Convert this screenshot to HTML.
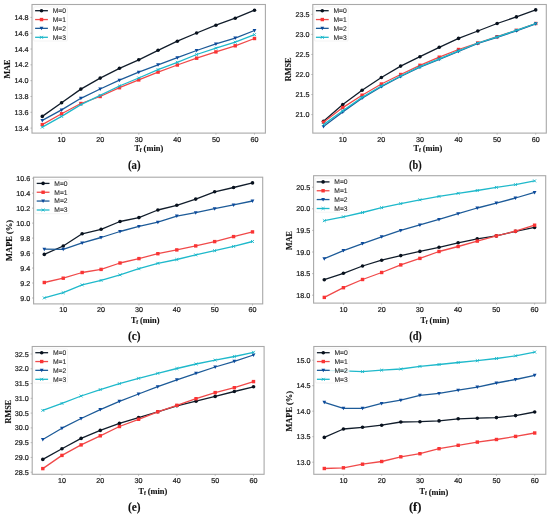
<!DOCTYPE html>
<html><head><meta charset="utf-8"><style>
html,body{margin:0;padding:0;background:#fff;}
body{width:550px;height:517px;overflow:hidden;}
svg{display:block;will-change:transform;}
.s{font-family:"Liberation Sans",sans-serif;fill:#1c1c1c;stroke:#1c1c1c;stroke-width:0.22;text-rendering:geometricPrecision;}
.l{font-family:"Liberation Sans",sans-serif;fill:#2e2e2e;stroke:#2e2e2e;stroke-width:0.12;text-rendering:geometricPrecision;}
.b{font-family:"Liberation Serif",serif;font-weight:bold;fill:#111;stroke:#111;stroke-width:0.12;}
</style></head><body>
<svg width="550" height="517" viewBox="0 0 550 517">
<rect width="550" height="517" fill="#fff"/>
<g><clipPath id="c0"><rect x="32" y="4.5" width="233.4" height="128.6"/></clipPath><g clip-path="url(#c0)"><polyline points="42.3,116.4 61.59,102.8 80.88,89.1 100.17,78.1 119.46,68.3 138.75,59.8 158.05,50.3 177.34,41.2 196.63,33 215.92,25.2 235.21,18.2 254.5,10.2" fill="none" stroke="#111d2b" stroke-width="1.3" stroke-linejoin="round"/><circle cx="42.3" cy="116.4" r="1.8" fill="#08111d"/><circle cx="61.59" cy="102.8" r="1.8" fill="#08111d"/><circle cx="80.88" cy="89.1" r="1.8" fill="#08111d"/><circle cx="100.17" cy="78.1" r="1.8" fill="#08111d"/><circle cx="119.46" cy="68.3" r="1.8" fill="#08111d"/><circle cx="138.75" cy="59.8" r="1.8" fill="#08111d"/><circle cx="158.05" cy="50.3" r="1.8" fill="#08111d"/><circle cx="177.34" cy="41.2" r="1.8" fill="#08111d"/><circle cx="196.63" cy="33" r="1.8" fill="#08111d"/><circle cx="215.92" cy="25.2" r="1.8" fill="#08111d"/><circle cx="235.21" cy="18.2" r="1.8" fill="#08111d"/><circle cx="254.5" cy="10.2" r="1.8" fill="#08111d"/><polyline points="42.3,124.6 61.59,113.8 80.88,103.5 100.17,96.5 119.46,87.7 138.75,79.9 158.05,72.1 177.34,65 196.63,58.2 215.92,51.9 235.21,45.8 254.5,38.5" fill="none" stroke="#f04a4a" stroke-width="1.3" stroke-linejoin="round"/><rect x="40.6" y="122.9" width="3.4" height="3.4" fill="#fa3434"/><rect x="59.89" y="112.1" width="3.4" height="3.4" fill="#fa3434"/><rect x="79.18" y="101.8" width="3.4" height="3.4" fill="#fa3434"/><rect x="98.47" y="94.8" width="3.4" height="3.4" fill="#fa3434"/><rect x="117.76" y="86" width="3.4" height="3.4" fill="#fa3434"/><rect x="137.05" y="78.2" width="3.4" height="3.4" fill="#fa3434"/><rect x="156.35" y="70.4" width="3.4" height="3.4" fill="#fa3434"/><rect x="175.64" y="63.3" width="3.4" height="3.4" fill="#fa3434"/><rect x="194.93" y="56.5" width="3.4" height="3.4" fill="#fa3434"/><rect x="214.22" y="50.2" width="3.4" height="3.4" fill="#fa3434"/><rect x="233.51" y="44.1" width="3.4" height="3.4" fill="#fa3434"/><rect x="252.8" y="36.8" width="3.4" height="3.4" fill="#fa3434"/><polyline points="42.3,120.4 61.59,109.9 80.88,98.3 100.17,89 119.46,80.2 138.75,72.2 158.05,64.8 177.34,57.7 196.63,50.5 215.92,43.9 235.21,38.1 254.5,30.5" fill="none" stroke="#1d5b98" stroke-width="1.3" stroke-linejoin="round"/><path d="M40.4 118.9L44.2 118.9L42.3 122.4Z" fill="#0c4a9c"/><path d="M59.69 108.4L63.49 108.4L61.59 111.9Z" fill="#0c4a9c"/><path d="M78.98 96.8L82.78 96.8L80.88 100.3Z" fill="#0c4a9c"/><path d="M98.27 87.5L102.07 87.5L100.17 91Z" fill="#0c4a9c"/><path d="M117.56 78.7L121.36 78.7L119.46 82.2Z" fill="#0c4a9c"/><path d="M136.85 70.7L140.65 70.7L138.75 74.2Z" fill="#0c4a9c"/><path d="M156.15 63.3L159.95 63.3L158.05 66.8Z" fill="#0c4a9c"/><path d="M175.44 56.2L179.24 56.2L177.34 59.7Z" fill="#0c4a9c"/><path d="M194.73 49L198.53 49L196.63 52.5Z" fill="#0c4a9c"/><path d="M214.02 42.4L217.82 42.4L215.92 45.9Z" fill="#0c4a9c"/><path d="M233.31 36.6L237.11 36.6L235.21 40.1Z" fill="#0c4a9c"/><path d="M252.6 29L256.4 29L254.5 32.5Z" fill="#0c4a9c"/><polyline points="42.3,127.1 61.59,116.4 80.88,104.6 100.17,95.4 119.46,86 138.75,78 158.05,69.6 177.34,62.3 196.63,54.5 215.92,48.2 235.21,42.2 254.5,34.6" fill="none" stroke="#1fb9cb" stroke-width="1.3" stroke-linejoin="round"/><path d="M40.85 125.65L43.75 128.55M40.85 128.55L43.75 125.65" stroke="#1ab5c8" stroke-width="0.9" fill="none"/><path d="M60.14 114.95L63.04 117.85M60.14 117.85L63.04 114.95" stroke="#1ab5c8" stroke-width="0.9" fill="none"/><path d="M79.43 103.15L82.33 106.05M79.43 106.05L82.33 103.15" stroke="#1ab5c8" stroke-width="0.9" fill="none"/><path d="M98.72 93.95L101.62 96.85M98.72 96.85L101.62 93.95" stroke="#1ab5c8" stroke-width="0.9" fill="none"/><path d="M118.01 84.55L120.91 87.45M118.01 87.45L120.91 84.55" stroke="#1ab5c8" stroke-width="0.9" fill="none"/><path d="M137.3 76.55L140.2 79.45M137.3 79.45L140.2 76.55" stroke="#1ab5c8" stroke-width="0.9" fill="none"/><path d="M156.6 68.15L159.5 71.05M156.6 71.05L159.5 68.15" stroke="#1ab5c8" stroke-width="0.9" fill="none"/><path d="M175.89 60.85L178.79 63.75M175.89 63.75L178.79 60.85" stroke="#1ab5c8" stroke-width="0.9" fill="none"/><path d="M195.18 53.05L198.08 55.95M195.18 55.95L198.08 53.05" stroke="#1ab5c8" stroke-width="0.9" fill="none"/><path d="M214.47 46.75L217.37 49.65M214.47 49.65L217.37 46.75" stroke="#1ab5c8" stroke-width="0.9" fill="none"/><path d="M233.76 40.75L236.66 43.65M233.76 43.65L236.66 40.75" stroke="#1ab5c8" stroke-width="0.9" fill="none"/><path d="M253.05 33.15L255.95 36.05M253.05 36.05L255.95 33.15" stroke="#1ab5c8" stroke-width="0.9" fill="none"/></g><rect x="33.7" y="6.9" width="33.7" height="34.1" rx="1" ry="1" fill="#fff" fill-opacity="0.8" stroke="#e4e4e4" stroke-width="0.4"/><line x1="35.1" y1="10.7" x2="47.9" y2="10.7" stroke="#111d2b" stroke-width="1.3"/><circle cx="41.5" cy="10.7" r="1.8" fill="#08111d"/><text x="52.7" y="13.05" font-size="6.9" textLength="13.3" lengthAdjust="spacingAndGlyphs" class="l">M=0</text><line x1="35.1" y1="19.55" x2="47.9" y2="19.55" stroke="#f04a4a" stroke-width="1.3"/><rect x="39.8" y="17.85" width="3.4" height="3.4" fill="#fa3434"/><text x="52.7" y="21.9" font-size="6.9" textLength="13.3" lengthAdjust="spacingAndGlyphs" class="l">M=1</text><line x1="35.1" y1="28.35" x2="47.9" y2="28.35" stroke="#1d5b98" stroke-width="1.3"/><path d="M39.6 26.85L43.4 26.85L41.5 30.35Z" fill="#0c4a9c"/><text x="52.7" y="30.7" font-size="6.9" textLength="13.3" lengthAdjust="spacingAndGlyphs" class="l">M=2</text><line x1="35.1" y1="37.3" x2="47.9" y2="37.3" stroke="#1fb9cb" stroke-width="1.3"/><path d="M40.05 35.85L42.95 38.75M40.05 38.75L42.95 35.85" stroke="#1ab5c8" stroke-width="0.9" fill="none"/><text x="52.7" y="39.65" font-size="6.9" textLength="13.3" lengthAdjust="spacingAndGlyphs" class="l">M=3</text><rect x="32" y="4.5" width="233.4" height="128.6" fill="none" stroke="#a9a9a9" stroke-width="1.1"/><line x1="61.59" y1="133.1" x2="61.59" y2="134.7" stroke="#999" stroke-width="0.6"/><text x="61.59" y="141.6" font-size="7.1" text-anchor="middle" textLength="8" lengthAdjust="spacingAndGlyphs" class="s">10</text><line x1="100.17" y1="133.1" x2="100.17" y2="134.7" stroke="#999" stroke-width="0.6"/><text x="100.17" y="141.6" font-size="7.1" text-anchor="middle" textLength="8" lengthAdjust="spacingAndGlyphs" class="s">20</text><line x1="138.75" y1="133.1" x2="138.75" y2="134.7" stroke="#999" stroke-width="0.6"/><text x="138.75" y="141.6" font-size="7.1" text-anchor="middle" textLength="8" lengthAdjust="spacingAndGlyphs" class="s">30</text><line x1="177.34" y1="133.1" x2="177.34" y2="134.7" stroke="#999" stroke-width="0.6"/><text x="177.34" y="141.6" font-size="7.1" text-anchor="middle" textLength="8" lengthAdjust="spacingAndGlyphs" class="s">40</text><line x1="215.92" y1="133.1" x2="215.92" y2="134.7" stroke="#999" stroke-width="0.6"/><text x="215.92" y="141.6" font-size="7.1" text-anchor="middle" textLength="8" lengthAdjust="spacingAndGlyphs" class="s">50</text><line x1="254.5" y1="133.1" x2="254.5" y2="134.7" stroke="#999" stroke-width="0.6"/><text x="254.5" y="141.6" font-size="7.1" text-anchor="middle" textLength="8" lengthAdjust="spacingAndGlyphs" class="s">60</text><line x1="30.4" y1="128.1" x2="32" y2="128.1" stroke="#999" stroke-width="0.6"/><text x="28.6" y="130.6" font-size="7.1" text-anchor="end" textLength="14" lengthAdjust="spacingAndGlyphs" class="s">13.4</text><line x1="30.4" y1="112.29" x2="32" y2="112.29" stroke="#999" stroke-width="0.6"/><text x="28.6" y="114.79" font-size="7.1" text-anchor="end" textLength="14" lengthAdjust="spacingAndGlyphs" class="s">13.6</text><line x1="30.4" y1="96.47" x2="32" y2="96.47" stroke="#999" stroke-width="0.6"/><text x="28.6" y="98.97" font-size="7.1" text-anchor="end" textLength="14" lengthAdjust="spacingAndGlyphs" class="s">13.8</text><line x1="30.4" y1="80.66" x2="32" y2="80.66" stroke="#999" stroke-width="0.6"/><text x="28.6" y="83.16" font-size="7.1" text-anchor="end" textLength="14" lengthAdjust="spacingAndGlyphs" class="s">14.0</text><line x1="30.4" y1="64.84" x2="32" y2="64.84" stroke="#999" stroke-width="0.6"/><text x="28.6" y="67.34" font-size="7.1" text-anchor="end" textLength="14" lengthAdjust="spacingAndGlyphs" class="s">14.2</text><line x1="30.4" y1="49.03" x2="32" y2="49.03" stroke="#999" stroke-width="0.6"/><text x="28.6" y="51.53" font-size="7.1" text-anchor="end" textLength="14" lengthAdjust="spacingAndGlyphs" class="s">14.4</text><line x1="30.4" y1="33.21" x2="32" y2="33.21" stroke="#999" stroke-width="0.6"/><text x="28.6" y="35.71" font-size="7.1" text-anchor="end" textLength="14" lengthAdjust="spacingAndGlyphs" class="s">14.6</text><line x1="30.4" y1="17.4" x2="32" y2="17.4" stroke="#999" stroke-width="0.6"/><text x="28.6" y="19.9" font-size="7.1" text-anchor="end" textLength="14" lengthAdjust="spacingAndGlyphs" class="s">14.8</text><text transform="translate(9.7 69.1) rotate(-90)" font-size="8.2" text-anchor="middle" textLength="19" lengthAdjust="spacingAndGlyphs" class="b">MAE</text><text x="134.5" y="151.1" font-size="8.2" class="b">T</text><text x="139.8" y="152.3" font-size="5.6" class="b">f</text><text x="143.6" y="151.4" font-size="8.5" textLength="19.6" lengthAdjust="spacingAndGlyphs" class="b">(min)</text><text transform="translate(134.2 168.8) scale(1 1.1)" font-size="11.0" text-anchor="middle" textLength="12.6" lengthAdjust="spacingAndGlyphs" class="b">(a)</text></g>
<g><clipPath id="c1"><rect x="312.8" y="4.5" width="233.5" height="128.6"/></clipPath><g clip-path="url(#c1)"><polyline points="323.5,121.2 342.79,104.5 362.08,90.3 381.37,77.5 400.66,66.1 419.95,56.7 439.25,47.3 458.54,38.4 477.83,31 497.12,23.5 516.41,16.9 535.7,9.9" fill="none" stroke="#111d2b" stroke-width="1.3" stroke-linejoin="round"/><circle cx="323.5" cy="121.2" r="1.8" fill="#08111d"/><circle cx="342.79" cy="104.5" r="1.8" fill="#08111d"/><circle cx="362.08" cy="90.3" r="1.8" fill="#08111d"/><circle cx="381.37" cy="77.5" r="1.8" fill="#08111d"/><circle cx="400.66" cy="66.1" r="1.8" fill="#08111d"/><circle cx="419.95" cy="56.7" r="1.8" fill="#08111d"/><circle cx="439.25" cy="47.3" r="1.8" fill="#08111d"/><circle cx="458.54" cy="38.4" r="1.8" fill="#08111d"/><circle cx="477.83" cy="31" r="1.8" fill="#08111d"/><circle cx="497.12" cy="23.5" r="1.8" fill="#08111d"/><circle cx="516.41" cy="16.9" r="1.8" fill="#08111d"/><circle cx="535.7" cy="9.9" r="1.8" fill="#08111d"/><polyline points="323.5,122.3 342.79,107.6 362.08,95.2 381.37,84 400.66,74.5 419.95,65.3 439.25,57.2 458.54,49.5 477.83,43 497.12,36.7 516.41,30.3 535.7,23.5" fill="none" stroke="#f04a4a" stroke-width="1.3" stroke-linejoin="round"/><rect x="321.8" y="120.6" width="3.4" height="3.4" fill="#fa3434"/><rect x="341.09" y="105.9" width="3.4" height="3.4" fill="#fa3434"/><rect x="360.38" y="93.5" width="3.4" height="3.4" fill="#fa3434"/><rect x="379.67" y="82.3" width="3.4" height="3.4" fill="#fa3434"/><rect x="398.96" y="72.8" width="3.4" height="3.4" fill="#fa3434"/><rect x="418.25" y="63.6" width="3.4" height="3.4" fill="#fa3434"/><rect x="437.55" y="55.5" width="3.4" height="3.4" fill="#fa3434"/><rect x="456.84" y="47.8" width="3.4" height="3.4" fill="#fa3434"/><rect x="476.13" y="41.3" width="3.4" height="3.4" fill="#fa3434"/><rect x="495.42" y="35" width="3.4" height="3.4" fill="#fa3434"/><rect x="514.71" y="28.6" width="3.4" height="3.4" fill="#fa3434"/><rect x="534" y="21.8" width="3.4" height="3.4" fill="#fa3434"/><polyline points="323.5,126.5 342.79,111.9 362.08,98.1 381.37,86.6 400.66,76.5 419.95,67.2 439.25,59.3 458.54,51.3 477.83,43.5 497.12,37.3 516.41,30.8 535.7,23.8" fill="none" stroke="#1d5b98" stroke-width="1.3" stroke-linejoin="round"/><path d="M321.6 125L325.4 125L323.5 128.5Z" fill="#0c4a9c"/><path d="M340.89 110.4L344.69 110.4L342.79 113.9Z" fill="#0c4a9c"/><path d="M360.18 96.6L363.98 96.6L362.08 100.1Z" fill="#0c4a9c"/><path d="M379.47 85.1L383.27 85.1L381.37 88.6Z" fill="#0c4a9c"/><path d="M398.76 75L402.56 75L400.66 78.5Z" fill="#0c4a9c"/><path d="M418.05 65.7L421.85 65.7L419.95 69.2Z" fill="#0c4a9c"/><path d="M437.35 57.8L441.15 57.8L439.25 61.3Z" fill="#0c4a9c"/><path d="M456.64 49.8L460.44 49.8L458.54 53.3Z" fill="#0c4a9c"/><path d="M475.93 42L479.73 42L477.83 45.5Z" fill="#0c4a9c"/><path d="M495.22 35.8L499.02 35.8L497.12 39.3Z" fill="#0c4a9c"/><path d="M514.51 29.3L518.31 29.3L516.41 32.8Z" fill="#0c4a9c"/><path d="M533.8 22.3L537.6 22.3L535.7 25.8Z" fill="#0c4a9c"/><polyline points="323.5,124.6 342.79,110.7 362.08,97.4 381.37,86 400.66,76 419.95,66.7 439.25,58.8 458.54,50.8 477.83,43 497.12,36.8 516.41,30.3 535.7,23.5" fill="none" stroke="#1fb9cb" stroke-width="1.3" stroke-linejoin="round"/><path d="M322.05 123.15L324.95 126.05M322.05 126.05L324.95 123.15" stroke="#1ab5c8" stroke-width="0.9" fill="none"/><path d="M341.34 109.25L344.24 112.15M341.34 112.15L344.24 109.25" stroke="#1ab5c8" stroke-width="0.9" fill="none"/><path d="M360.63 95.95L363.53 98.85M360.63 98.85L363.53 95.95" stroke="#1ab5c8" stroke-width="0.9" fill="none"/><path d="M379.92 84.55L382.82 87.45M379.92 87.45L382.82 84.55" stroke="#1ab5c8" stroke-width="0.9" fill="none"/><path d="M399.21 74.55L402.11 77.45M399.21 77.45L402.11 74.55" stroke="#1ab5c8" stroke-width="0.9" fill="none"/><path d="M418.5 65.25L421.4 68.15M418.5 68.15L421.4 65.25" stroke="#1ab5c8" stroke-width="0.9" fill="none"/><path d="M437.8 57.35L440.7 60.25M437.8 60.25L440.7 57.35" stroke="#1ab5c8" stroke-width="0.9" fill="none"/><path d="M457.09 49.35L459.99 52.25M457.09 52.25L459.99 49.35" stroke="#1ab5c8" stroke-width="0.9" fill="none"/><path d="M476.38 41.55L479.28 44.45M476.38 44.45L479.28 41.55" stroke="#1ab5c8" stroke-width="0.9" fill="none"/><path d="M495.67 35.35L498.57 38.25M495.67 38.25L498.57 35.35" stroke="#1ab5c8" stroke-width="0.9" fill="none"/><path d="M514.96 28.85L517.86 31.75M514.96 31.75L517.86 28.85" stroke="#1ab5c8" stroke-width="0.9" fill="none"/><path d="M534.25 22.05L537.15 24.95M534.25 24.95L537.15 22.05" stroke="#1ab5c8" stroke-width="0.9" fill="none"/></g><rect x="314.5" y="6.9" width="33.7" height="34.1" rx="1" ry="1" fill="#fff" fill-opacity="0.8" stroke="#e4e4e4" stroke-width="0.4"/><line x1="315.9" y1="10.7" x2="328.7" y2="10.7" stroke="#111d2b" stroke-width="1.3"/><circle cx="322.3" cy="10.7" r="1.8" fill="#08111d"/><text x="333.5" y="13.05" font-size="6.9" textLength="13.3" lengthAdjust="spacingAndGlyphs" class="l">M=0</text><line x1="315.9" y1="19.55" x2="328.7" y2="19.55" stroke="#f04a4a" stroke-width="1.3"/><rect x="320.6" y="17.85" width="3.4" height="3.4" fill="#fa3434"/><text x="333.5" y="21.9" font-size="6.9" textLength="13.3" lengthAdjust="spacingAndGlyphs" class="l">M=1</text><line x1="315.9" y1="28.35" x2="328.7" y2="28.35" stroke="#1d5b98" stroke-width="1.3"/><path d="M320.4 26.85L324.2 26.85L322.3 30.35Z" fill="#0c4a9c"/><text x="333.5" y="30.7" font-size="6.9" textLength="13.3" lengthAdjust="spacingAndGlyphs" class="l">M=2</text><line x1="315.9" y1="37.3" x2="328.7" y2="37.3" stroke="#1fb9cb" stroke-width="1.3"/><path d="M320.85 35.85L323.75 38.75M320.85 38.75L323.75 35.85" stroke="#1ab5c8" stroke-width="0.9" fill="none"/><text x="333.5" y="39.65" font-size="6.9" textLength="13.3" lengthAdjust="spacingAndGlyphs" class="l">M=3</text><rect x="312.8" y="4.5" width="233.5" height="128.6" fill="none" stroke="#a9a9a9" stroke-width="1.1"/><line x1="342.79" y1="133.1" x2="342.79" y2="134.7" stroke="#999" stroke-width="0.6"/><text x="342.79" y="141.6" font-size="7.1" text-anchor="middle" textLength="8" lengthAdjust="spacingAndGlyphs" class="s">10</text><line x1="381.37" y1="133.1" x2="381.37" y2="134.7" stroke="#999" stroke-width="0.6"/><text x="381.37" y="141.6" font-size="7.1" text-anchor="middle" textLength="8" lengthAdjust="spacingAndGlyphs" class="s">20</text><line x1="419.95" y1="133.1" x2="419.95" y2="134.7" stroke="#999" stroke-width="0.6"/><text x="419.95" y="141.6" font-size="7.1" text-anchor="middle" textLength="8" lengthAdjust="spacingAndGlyphs" class="s">30</text><line x1="458.54" y1="133.1" x2="458.54" y2="134.7" stroke="#999" stroke-width="0.6"/><text x="458.54" y="141.6" font-size="7.1" text-anchor="middle" textLength="8" lengthAdjust="spacingAndGlyphs" class="s">40</text><line x1="497.12" y1="133.1" x2="497.12" y2="134.7" stroke="#999" stroke-width="0.6"/><text x="497.12" y="141.6" font-size="7.1" text-anchor="middle" textLength="8" lengthAdjust="spacingAndGlyphs" class="s">50</text><line x1="535.7" y1="133.1" x2="535.7" y2="134.7" stroke="#999" stroke-width="0.6"/><text x="535.7" y="141.6" font-size="7.1" text-anchor="middle" textLength="8" lengthAdjust="spacingAndGlyphs" class="s">60</text><line x1="311.2" y1="114.6" x2="312.8" y2="114.6" stroke="#999" stroke-width="0.6"/><text x="309.4" y="117.1" font-size="7.1" text-anchor="end" textLength="14" lengthAdjust="spacingAndGlyphs" class="s">21.0</text><line x1="311.2" y1="94.55" x2="312.8" y2="94.55" stroke="#999" stroke-width="0.6"/><text x="309.4" y="97.05" font-size="7.1" text-anchor="end" textLength="14" lengthAdjust="spacingAndGlyphs" class="s">21.5</text><line x1="311.2" y1="74.5" x2="312.8" y2="74.5" stroke="#999" stroke-width="0.6"/><text x="309.4" y="77" font-size="7.1" text-anchor="end" textLength="14" lengthAdjust="spacingAndGlyphs" class="s">22.0</text><line x1="311.2" y1="54.45" x2="312.8" y2="54.45" stroke="#999" stroke-width="0.6"/><text x="309.4" y="56.95" font-size="7.1" text-anchor="end" textLength="14" lengthAdjust="spacingAndGlyphs" class="s">22.5</text><line x1="311.2" y1="34.4" x2="312.8" y2="34.4" stroke="#999" stroke-width="0.6"/><text x="309.4" y="36.9" font-size="7.1" text-anchor="end" textLength="14" lengthAdjust="spacingAndGlyphs" class="s">23.0</text><line x1="311.2" y1="14.35" x2="312.8" y2="14.35" stroke="#999" stroke-width="0.6"/><text x="309.4" y="16.85" font-size="7.1" text-anchor="end" textLength="14" lengthAdjust="spacingAndGlyphs" class="s">23.5</text><text transform="translate(290.7 69.3) rotate(-90)" font-size="8.2" text-anchor="middle" textLength="23.8" lengthAdjust="spacingAndGlyphs" class="b">RMSE</text><text x="413.6" y="151" font-size="8.2" class="b">T</text><text x="418.9" y="152.2" font-size="5.6" class="b">f</text><text x="422.7" y="151.3" font-size="8.5" textLength="19.6" lengthAdjust="spacingAndGlyphs" class="b">(min)</text><text transform="translate(415.4 168.8) scale(1 1.1)" font-size="11.0" text-anchor="middle" textLength="12.6" lengthAdjust="spacingAndGlyphs" class="b">(b)</text></g>
<g><clipPath id="c2"><rect x="33.6" y="177.2" width="229.1" height="126.7"/></clipPath><g clip-path="url(#c2)"><polyline points="44.3,254.4 63.23,246 82.15,233.8 101.08,229.3 120.01,221.5 138.94,217.6 157.86,210 176.79,205.3 195.72,199.1 214.65,191.8 233.57,187.5 252.5,182.9" fill="none" stroke="#111d2b" stroke-width="1.3" stroke-linejoin="round"/><circle cx="44.3" cy="254.4" r="1.8" fill="#08111d"/><circle cx="63.23" cy="246" r="1.8" fill="#08111d"/><circle cx="82.15" cy="233.8" r="1.8" fill="#08111d"/><circle cx="101.08" cy="229.3" r="1.8" fill="#08111d"/><circle cx="120.01" cy="221.5" r="1.8" fill="#08111d"/><circle cx="138.94" cy="217.6" r="1.8" fill="#08111d"/><circle cx="157.86" cy="210" r="1.8" fill="#08111d"/><circle cx="176.79" cy="205.3" r="1.8" fill="#08111d"/><circle cx="195.72" cy="199.1" r="1.8" fill="#08111d"/><circle cx="214.65" cy="191.8" r="1.8" fill="#08111d"/><circle cx="233.57" cy="187.5" r="1.8" fill="#08111d"/><circle cx="252.5" cy="182.9" r="1.8" fill="#08111d"/><polyline points="44.3,282.5 63.23,278.2 82.15,272.5 101.08,269.4 120.01,263 138.94,258.6 157.86,253.7 176.79,249.9 195.72,245.9 214.65,241.6 233.57,236.6 252.5,231.9" fill="none" stroke="#f04a4a" stroke-width="1.3" stroke-linejoin="round"/><rect x="42.6" y="280.8" width="3.4" height="3.4" fill="#fa3434"/><rect x="61.53" y="276.5" width="3.4" height="3.4" fill="#fa3434"/><rect x="80.45" y="270.8" width="3.4" height="3.4" fill="#fa3434"/><rect x="99.38" y="267.7" width="3.4" height="3.4" fill="#fa3434"/><rect x="118.31" y="261.3" width="3.4" height="3.4" fill="#fa3434"/><rect x="137.24" y="256.9" width="3.4" height="3.4" fill="#fa3434"/><rect x="156.16" y="252" width="3.4" height="3.4" fill="#fa3434"/><rect x="175.09" y="248.2" width="3.4" height="3.4" fill="#fa3434"/><rect x="194.02" y="244.2" width="3.4" height="3.4" fill="#fa3434"/><rect x="212.95" y="239.9" width="3.4" height="3.4" fill="#fa3434"/><rect x="231.87" y="234.9" width="3.4" height="3.4" fill="#fa3434"/><rect x="250.8" y="230.2" width="3.4" height="3.4" fill="#fa3434"/><polyline points="44.3,249.2 63.23,249.3 82.15,242.9 101.08,237.5 120.01,231.5 138.94,226.4 157.86,222.2 176.79,216.1 195.72,212.7 214.65,208.7 233.57,204.9 252.5,201" fill="none" stroke="#1d5b98" stroke-width="1.3" stroke-linejoin="round"/><path d="M42.4 247.7L46.2 247.7L44.3 251.2Z" fill="#0c4a9c"/><path d="M61.33 247.8L65.13 247.8L63.23 251.3Z" fill="#0c4a9c"/><path d="M80.25 241.4L84.05 241.4L82.15 244.9Z" fill="#0c4a9c"/><path d="M99.18 236L102.98 236L101.08 239.5Z" fill="#0c4a9c"/><path d="M118.11 230L121.91 230L120.01 233.5Z" fill="#0c4a9c"/><path d="M137.04 224.9L140.84 224.9L138.94 228.4Z" fill="#0c4a9c"/><path d="M155.96 220.7L159.76 220.7L157.86 224.2Z" fill="#0c4a9c"/><path d="M174.89 214.6L178.69 214.6L176.79 218.1Z" fill="#0c4a9c"/><path d="M193.82 211.2L197.62 211.2L195.72 214.7Z" fill="#0c4a9c"/><path d="M212.75 207.2L216.55 207.2L214.65 210.7Z" fill="#0c4a9c"/><path d="M231.67 203.4L235.47 203.4L233.57 206.9Z" fill="#0c4a9c"/><path d="M250.6 199.5L254.4 199.5L252.5 203Z" fill="#0c4a9c"/><polyline points="44.3,297.9 63.23,292.7 82.15,284.9 101.08,280.4 120.01,274.9 138.94,268.7 157.86,263.3 176.79,259.5 195.72,254.9 214.65,250.7 233.57,246.4 252.5,241.5" fill="none" stroke="#1fb9cb" stroke-width="1.3" stroke-linejoin="round"/><path d="M42.85 296.45L45.75 299.35M42.85 299.35L45.75 296.45" stroke="#1ab5c8" stroke-width="0.9" fill="none"/><path d="M61.78 291.25L64.68 294.15M61.78 294.15L64.68 291.25" stroke="#1ab5c8" stroke-width="0.9" fill="none"/><path d="M80.7 283.45L83.6 286.35M80.7 286.35L83.6 283.45" stroke="#1ab5c8" stroke-width="0.9" fill="none"/><path d="M99.63 278.95L102.53 281.85M99.63 281.85L102.53 278.95" stroke="#1ab5c8" stroke-width="0.9" fill="none"/><path d="M118.56 273.45L121.46 276.35M118.56 276.35L121.46 273.45" stroke="#1ab5c8" stroke-width="0.9" fill="none"/><path d="M137.49 267.25L140.39 270.15M137.49 270.15L140.39 267.25" stroke="#1ab5c8" stroke-width="0.9" fill="none"/><path d="M156.41 261.85L159.31 264.75M156.41 264.75L159.31 261.85" stroke="#1ab5c8" stroke-width="0.9" fill="none"/><path d="M175.34 258.05L178.24 260.95M175.34 260.95L178.24 258.05" stroke="#1ab5c8" stroke-width="0.9" fill="none"/><path d="M194.27 253.45L197.17 256.35M194.27 256.35L197.17 253.45" stroke="#1ab5c8" stroke-width="0.9" fill="none"/><path d="M213.2 249.25L216.1 252.15M213.2 252.15L216.1 249.25" stroke="#1ab5c8" stroke-width="0.9" fill="none"/><path d="M232.12 244.95L235.02 247.85M232.12 247.85L235.02 244.95" stroke="#1ab5c8" stroke-width="0.9" fill="none"/><path d="M251.05 240.05L253.95 242.95M251.05 242.95L253.95 240.05" stroke="#1ab5c8" stroke-width="0.9" fill="none"/></g><rect x="35.3" y="179.6" width="33.7" height="34.1" rx="1" ry="1" fill="#fff" fill-opacity="0.8" stroke="#e4e4e4" stroke-width="0.4"/><line x1="36.7" y1="183.4" x2="49.5" y2="183.4" stroke="#111d2b" stroke-width="1.3"/><circle cx="43.1" cy="183.4" r="1.8" fill="#08111d"/><text x="54.3" y="185.75" font-size="6.9" textLength="13.3" lengthAdjust="spacingAndGlyphs" class="l">M=0</text><line x1="36.7" y1="192.25" x2="49.5" y2="192.25" stroke="#f04a4a" stroke-width="1.3"/><rect x="41.4" y="190.55" width="3.4" height="3.4" fill="#fa3434"/><text x="54.3" y="194.6" font-size="6.9" textLength="13.3" lengthAdjust="spacingAndGlyphs" class="l">M=1</text><line x1="36.7" y1="201.05" x2="49.5" y2="201.05" stroke="#1d5b98" stroke-width="1.3"/><path d="M41.2 199.55L45 199.55L43.1 203.05Z" fill="#0c4a9c"/><text x="54.3" y="203.4" font-size="6.9" textLength="13.3" lengthAdjust="spacingAndGlyphs" class="l">M=2</text><line x1="36.7" y1="210" x2="49.5" y2="210" stroke="#1fb9cb" stroke-width="1.3"/><path d="M41.65 208.55L44.55 211.45M41.65 211.45L44.55 208.55" stroke="#1ab5c8" stroke-width="0.9" fill="none"/><text x="54.3" y="212.35" font-size="6.9" textLength="13.3" lengthAdjust="spacingAndGlyphs" class="l">M=3</text><rect x="33.6" y="177.2" width="229.1" height="126.7" fill="none" stroke="#a9a9a9" stroke-width="1.1"/><line x1="63.23" y1="303.9" x2="63.23" y2="305.5" stroke="#999" stroke-width="0.6"/><text x="63.23" y="312.4" font-size="7.1" text-anchor="middle" textLength="8" lengthAdjust="spacingAndGlyphs" class="s">10</text><line x1="101.08" y1="303.9" x2="101.08" y2="305.5" stroke="#999" stroke-width="0.6"/><text x="101.08" y="312.4" font-size="7.1" text-anchor="middle" textLength="8" lengthAdjust="spacingAndGlyphs" class="s">20</text><line x1="138.94" y1="303.9" x2="138.94" y2="305.5" stroke="#999" stroke-width="0.6"/><text x="138.94" y="312.4" font-size="7.1" text-anchor="middle" textLength="8" lengthAdjust="spacingAndGlyphs" class="s">30</text><line x1="176.79" y1="303.9" x2="176.79" y2="305.5" stroke="#999" stroke-width="0.6"/><text x="176.79" y="312.4" font-size="7.1" text-anchor="middle" textLength="8" lengthAdjust="spacingAndGlyphs" class="s">40</text><line x1="214.65" y1="303.9" x2="214.65" y2="305.5" stroke="#999" stroke-width="0.6"/><text x="214.65" y="312.4" font-size="7.1" text-anchor="middle" textLength="8" lengthAdjust="spacingAndGlyphs" class="s">50</text><line x1="252.5" y1="303.9" x2="252.5" y2="305.5" stroke="#999" stroke-width="0.6"/><text x="252.5" y="312.4" font-size="7.1" text-anchor="middle" textLength="8" lengthAdjust="spacingAndGlyphs" class="s">60</text><line x1="32" y1="298" x2="33.6" y2="298" stroke="#999" stroke-width="0.6"/><text x="30.2" y="300.5" font-size="7.1" text-anchor="end" textLength="10" lengthAdjust="spacingAndGlyphs" class="s">9.0</text><line x1="32" y1="283.03" x2="33.6" y2="283.03" stroke="#999" stroke-width="0.6"/><text x="30.2" y="285.53" font-size="7.1" text-anchor="end" textLength="10" lengthAdjust="spacingAndGlyphs" class="s">9.2</text><line x1="32" y1="268.05" x2="33.6" y2="268.05" stroke="#999" stroke-width="0.6"/><text x="30.2" y="270.55" font-size="7.1" text-anchor="end" textLength="10" lengthAdjust="spacingAndGlyphs" class="s">9.4</text><line x1="32" y1="253.08" x2="33.6" y2="253.08" stroke="#999" stroke-width="0.6"/><text x="30.2" y="255.58" font-size="7.1" text-anchor="end" textLength="10" lengthAdjust="spacingAndGlyphs" class="s">9.6</text><line x1="32" y1="238.1" x2="33.6" y2="238.1" stroke="#999" stroke-width="0.6"/><text x="30.2" y="240.6" font-size="7.1" text-anchor="end" textLength="10" lengthAdjust="spacingAndGlyphs" class="s">9.8</text><line x1="32" y1="223.12" x2="33.6" y2="223.12" stroke="#999" stroke-width="0.6"/><text x="30.2" y="225.62" font-size="7.1" text-anchor="end" textLength="14" lengthAdjust="spacingAndGlyphs" class="s">10.0</text><line x1="32" y1="208.15" x2="33.6" y2="208.15" stroke="#999" stroke-width="0.6"/><text x="30.2" y="210.65" font-size="7.1" text-anchor="end" textLength="14" lengthAdjust="spacingAndGlyphs" class="s">10.2</text><line x1="32" y1="193.17" x2="33.6" y2="193.17" stroke="#999" stroke-width="0.6"/><text x="30.2" y="195.67" font-size="7.1" text-anchor="end" textLength="14" lengthAdjust="spacingAndGlyphs" class="s">10.4</text><line x1="32" y1="178.2" x2="33.6" y2="178.2" stroke="#999" stroke-width="0.6"/><text x="30.2" y="180.7" font-size="7.1" text-anchor="end" textLength="14" lengthAdjust="spacingAndGlyphs" class="s">10.6</text><text transform="translate(12.1 240.4) rotate(-90)" font-size="8.2" text-anchor="middle" textLength="41" lengthAdjust="spacingAndGlyphs" class="b">MAPE (%)</text><text x="130.9" y="322.5" font-size="8.2" class="b">T</text><text x="136.2" y="323.7" font-size="5.6" class="b">f</text><text x="140" y="322.8" font-size="8.5" textLength="19.6" lengthAdjust="spacingAndGlyphs" class="b">(min)</text><text transform="translate(134.2 340.3) scale(1 1.1)" font-size="11.0" text-anchor="middle" textLength="12.6" lengthAdjust="spacingAndGlyphs" class="b">(c)</text></g>
<g><clipPath id="c3"><rect x="313.6" y="175.7" width="232.1" height="127.4"/></clipPath><g clip-path="url(#c3)"><polyline points="324.3,279.7 343.42,273.3 362.54,266 381.65,260.2 400.77,255.6 419.89,251.4 439.01,247.3 458.13,242.8 477.25,238.9 496.36,235.9 515.48,231.4 534.6,227.4" fill="none" stroke="#111d2b" stroke-width="1.3" stroke-linejoin="round"/><circle cx="324.3" cy="279.7" r="1.8" fill="#08111d"/><circle cx="343.42" cy="273.3" r="1.8" fill="#08111d"/><circle cx="362.54" cy="266" r="1.8" fill="#08111d"/><circle cx="381.65" cy="260.2" r="1.8" fill="#08111d"/><circle cx="400.77" cy="255.6" r="1.8" fill="#08111d"/><circle cx="419.89" cy="251.4" r="1.8" fill="#08111d"/><circle cx="439.01" cy="247.3" r="1.8" fill="#08111d"/><circle cx="458.13" cy="242.8" r="1.8" fill="#08111d"/><circle cx="477.25" cy="238.9" r="1.8" fill="#08111d"/><circle cx="496.36" cy="235.9" r="1.8" fill="#08111d"/><circle cx="515.48" cy="231.4" r="1.8" fill="#08111d"/><circle cx="534.6" cy="227.4" r="1.8" fill="#08111d"/><polyline points="324.3,297.4 343.42,287.7 362.54,279.5 381.65,272.5 400.77,264.9 419.89,258.4 439.01,251.5 458.13,246.5 477.25,241.1 496.36,235.9 515.48,231.2 534.6,225.2" fill="none" stroke="#f04a4a" stroke-width="1.3" stroke-linejoin="round"/><rect x="322.6" y="295.7" width="3.4" height="3.4" fill="#fa3434"/><rect x="341.72" y="286" width="3.4" height="3.4" fill="#fa3434"/><rect x="360.84" y="277.8" width="3.4" height="3.4" fill="#fa3434"/><rect x="379.95" y="270.8" width="3.4" height="3.4" fill="#fa3434"/><rect x="399.07" y="263.2" width="3.4" height="3.4" fill="#fa3434"/><rect x="418.19" y="256.7" width="3.4" height="3.4" fill="#fa3434"/><rect x="437.31" y="249.8" width="3.4" height="3.4" fill="#fa3434"/><rect x="456.43" y="244.8" width="3.4" height="3.4" fill="#fa3434"/><rect x="475.55" y="239.4" width="3.4" height="3.4" fill="#fa3434"/><rect x="494.66" y="234.2" width="3.4" height="3.4" fill="#fa3434"/><rect x="513.78" y="229.5" width="3.4" height="3.4" fill="#fa3434"/><rect x="532.9" y="223.5" width="3.4" height="3.4" fill="#fa3434"/><polyline points="324.3,258.7 343.42,250.6 362.54,243.6 381.65,236.8 400.77,230.4 419.89,224.9 439.01,219.4 458.13,213.7 477.25,208 496.36,203.1 515.48,198 534.6,192.4" fill="none" stroke="#1d5b98" stroke-width="1.3" stroke-linejoin="round"/><path d="M322.4 257.2L326.2 257.2L324.3 260.7Z" fill="#0c4a9c"/><path d="M341.52 249.1L345.32 249.1L343.42 252.6Z" fill="#0c4a9c"/><path d="M360.64 242.1L364.44 242.1L362.54 245.6Z" fill="#0c4a9c"/><path d="M379.75 235.3L383.55 235.3L381.65 238.8Z" fill="#0c4a9c"/><path d="M398.87 228.9L402.67 228.9L400.77 232.4Z" fill="#0c4a9c"/><path d="M417.99 223.4L421.79 223.4L419.89 226.9Z" fill="#0c4a9c"/><path d="M437.11 217.9L440.91 217.9L439.01 221.4Z" fill="#0c4a9c"/><path d="M456.23 212.2L460.03 212.2L458.13 215.7Z" fill="#0c4a9c"/><path d="M475.35 206.5L479.15 206.5L477.25 210Z" fill="#0c4a9c"/><path d="M494.46 201.6L498.26 201.6L496.36 205.1Z" fill="#0c4a9c"/><path d="M513.58 196.5L517.38 196.5L515.48 200Z" fill="#0c4a9c"/><path d="M532.7 190.9L536.5 190.9L534.6 194.4Z" fill="#0c4a9c"/><polyline points="324.3,220.7 343.42,216.8 362.54,212.5 381.65,207.7 400.77,203.6 419.89,199.8 439.01,196.4 458.13,193.3 477.25,190.5 496.36,187.4 515.48,184.6 534.6,180.9" fill="none" stroke="#1fb9cb" stroke-width="1.3" stroke-linejoin="round"/><path d="M322.85 219.25L325.75 222.15M322.85 222.15L325.75 219.25" stroke="#1ab5c8" stroke-width="0.9" fill="none"/><path d="M341.97 215.35L344.87 218.25M341.97 218.25L344.87 215.35" stroke="#1ab5c8" stroke-width="0.9" fill="none"/><path d="M361.09 211.05L363.99 213.95M361.09 213.95L363.99 211.05" stroke="#1ab5c8" stroke-width="0.9" fill="none"/><path d="M380.2 206.25L383.1 209.15M380.2 209.15L383.1 206.25" stroke="#1ab5c8" stroke-width="0.9" fill="none"/><path d="M399.32 202.15L402.22 205.05M399.32 205.05L402.22 202.15" stroke="#1ab5c8" stroke-width="0.9" fill="none"/><path d="M418.44 198.35L421.34 201.25M418.44 201.25L421.34 198.35" stroke="#1ab5c8" stroke-width="0.9" fill="none"/><path d="M437.56 194.95L440.46 197.85M437.56 197.85L440.46 194.95" stroke="#1ab5c8" stroke-width="0.9" fill="none"/><path d="M456.68 191.85L459.58 194.75M456.68 194.75L459.58 191.85" stroke="#1ab5c8" stroke-width="0.9" fill="none"/><path d="M475.8 189.05L478.7 191.95M475.8 191.95L478.7 189.05" stroke="#1ab5c8" stroke-width="0.9" fill="none"/><path d="M494.91 185.95L497.81 188.85M494.91 188.85L497.81 185.95" stroke="#1ab5c8" stroke-width="0.9" fill="none"/><path d="M514.03 183.15L516.93 186.05M514.03 186.05L516.93 183.15" stroke="#1ab5c8" stroke-width="0.9" fill="none"/><path d="M533.15 179.45L536.05 182.35M533.15 182.35L536.05 179.45" stroke="#1ab5c8" stroke-width="0.9" fill="none"/></g><rect x="315.3" y="178.1" width="33.7" height="34.1" rx="1" ry="1" fill="#fff" fill-opacity="0.8" stroke="#e4e4e4" stroke-width="0.4"/><line x1="316.7" y1="181.9" x2="329.5" y2="181.9" stroke="#111d2b" stroke-width="1.3"/><circle cx="323.1" cy="181.9" r="1.8" fill="#08111d"/><text x="334.3" y="184.25" font-size="6.9" textLength="13.3" lengthAdjust="spacingAndGlyphs" class="l">M=0</text><line x1="316.7" y1="190.75" x2="329.5" y2="190.75" stroke="#f04a4a" stroke-width="1.3"/><rect x="321.4" y="189.05" width="3.4" height="3.4" fill="#fa3434"/><text x="334.3" y="193.1" font-size="6.9" textLength="13.3" lengthAdjust="spacingAndGlyphs" class="l">M=1</text><line x1="316.7" y1="199.55" x2="329.5" y2="199.55" stroke="#1d5b98" stroke-width="1.3"/><path d="M321.2 198.05L325 198.05L323.1 201.55Z" fill="#0c4a9c"/><text x="334.3" y="201.9" font-size="6.9" textLength="13.3" lengthAdjust="spacingAndGlyphs" class="l">M=2</text><line x1="316.7" y1="208.5" x2="329.5" y2="208.5" stroke="#1fb9cb" stroke-width="1.3"/><path d="M321.65 207.05L324.55 209.95M321.65 209.95L324.55 207.05" stroke="#1ab5c8" stroke-width="0.9" fill="none"/><text x="334.3" y="210.85" font-size="6.9" textLength="13.3" lengthAdjust="spacingAndGlyphs" class="l">M=3</text><rect x="313.6" y="175.7" width="232.1" height="127.4" fill="none" stroke="#a9a9a9" stroke-width="1.1"/><line x1="343.42" y1="303.1" x2="343.42" y2="304.7" stroke="#999" stroke-width="0.6"/><text x="343.42" y="311.6" font-size="7.1" text-anchor="middle" textLength="8" lengthAdjust="spacingAndGlyphs" class="s">10</text><line x1="381.65" y1="303.1" x2="381.65" y2="304.7" stroke="#999" stroke-width="0.6"/><text x="381.65" y="311.6" font-size="7.1" text-anchor="middle" textLength="8" lengthAdjust="spacingAndGlyphs" class="s">20</text><line x1="419.89" y1="303.1" x2="419.89" y2="304.7" stroke="#999" stroke-width="0.6"/><text x="419.89" y="311.6" font-size="7.1" text-anchor="middle" textLength="8" lengthAdjust="spacingAndGlyphs" class="s">30</text><line x1="458.13" y1="303.1" x2="458.13" y2="304.7" stroke="#999" stroke-width="0.6"/><text x="458.13" y="311.6" font-size="7.1" text-anchor="middle" textLength="8" lengthAdjust="spacingAndGlyphs" class="s">40</text><line x1="496.36" y1="303.1" x2="496.36" y2="304.7" stroke="#999" stroke-width="0.6"/><text x="496.36" y="311.6" font-size="7.1" text-anchor="middle" textLength="8" lengthAdjust="spacingAndGlyphs" class="s">50</text><line x1="534.6" y1="303.1" x2="534.6" y2="304.7" stroke="#999" stroke-width="0.6"/><text x="534.6" y="311.6" font-size="7.1" text-anchor="middle" textLength="8" lengthAdjust="spacingAndGlyphs" class="s">60</text><line x1="312" y1="295.2" x2="313.6" y2="295.2" stroke="#999" stroke-width="0.6"/><text x="310.2" y="297.7" font-size="7.1" text-anchor="end" textLength="14" lengthAdjust="spacingAndGlyphs" class="s">18.0</text><line x1="312" y1="273.6" x2="313.6" y2="273.6" stroke="#999" stroke-width="0.6"/><text x="310.2" y="276.1" font-size="7.1" text-anchor="end" textLength="14" lengthAdjust="spacingAndGlyphs" class="s">18.5</text><line x1="312" y1="252" x2="313.6" y2="252" stroke="#999" stroke-width="0.6"/><text x="310.2" y="254.5" font-size="7.1" text-anchor="end" textLength="14" lengthAdjust="spacingAndGlyphs" class="s">19.0</text><line x1="312" y1="230.4" x2="313.6" y2="230.4" stroke="#999" stroke-width="0.6"/><text x="310.2" y="232.9" font-size="7.1" text-anchor="end" textLength="14" lengthAdjust="spacingAndGlyphs" class="s">19.5</text><line x1="312" y1="208.8" x2="313.6" y2="208.8" stroke="#999" stroke-width="0.6"/><text x="310.2" y="211.3" font-size="7.1" text-anchor="end" textLength="14" lengthAdjust="spacingAndGlyphs" class="s">20.0</text><line x1="312" y1="187.2" x2="313.6" y2="187.2" stroke="#999" stroke-width="0.6"/><text x="310.2" y="189.7" font-size="7.1" text-anchor="end" textLength="14" lengthAdjust="spacingAndGlyphs" class="s">20.5</text><text transform="translate(291.5 240.5) rotate(-90)" font-size="8.2" text-anchor="middle" textLength="19.1" lengthAdjust="spacingAndGlyphs" class="b">MAE</text><text x="420.5" y="322.8" font-size="8.2" class="b">T</text><text x="425.8" y="324" font-size="5.6" class="b">f</text><text x="429.6" y="323.1" font-size="8.5" textLength="19.6" lengthAdjust="spacingAndGlyphs" class="b">(min)</text><text transform="translate(415.5 340.3) scale(1 1.1)" font-size="11.0" text-anchor="middle" textLength="12.6" lengthAdjust="spacingAndGlyphs" class="b">(d)</text></g>
<g><clipPath id="c4"><rect x="32.2" y="346.5" width="231.9" height="127.8"/></clipPath><g clip-path="url(#c4)"><polyline points="42.8,459.4 61.95,448.7 81.11,438.4 100.26,430.4 119.42,423.4 138.57,417.6 157.73,411.8 176.88,405.8 196.04,401.2 215.19,396.4 234.35,391.5 253.5,386.8" fill="none" stroke="#111d2b" stroke-width="1.3" stroke-linejoin="round"/><circle cx="42.8" cy="459.4" r="1.8" fill="#08111d"/><circle cx="61.95" cy="448.7" r="1.8" fill="#08111d"/><circle cx="81.11" cy="438.4" r="1.8" fill="#08111d"/><circle cx="100.26" cy="430.4" r="1.8" fill="#08111d"/><circle cx="119.42" cy="423.4" r="1.8" fill="#08111d"/><circle cx="138.57" cy="417.6" r="1.8" fill="#08111d"/><circle cx="157.73" cy="411.8" r="1.8" fill="#08111d"/><circle cx="176.88" cy="405.8" r="1.8" fill="#08111d"/><circle cx="196.04" cy="401.2" r="1.8" fill="#08111d"/><circle cx="215.19" cy="396.4" r="1.8" fill="#08111d"/><circle cx="234.35" cy="391.5" r="1.8" fill="#08111d"/><circle cx="253.5" cy="386.8" r="1.8" fill="#08111d"/><polyline points="42.8,468.6 61.95,455.4 81.11,444.9 100.26,435.8 119.42,426.5 138.57,419.3 157.73,411.8 176.88,405.3 196.04,398.7 215.19,392.6 234.35,387.7 253.5,381.6" fill="none" stroke="#f04a4a" stroke-width="1.3" stroke-linejoin="round"/><rect x="41.1" y="466.9" width="3.4" height="3.4" fill="#fa3434"/><rect x="60.25" y="453.7" width="3.4" height="3.4" fill="#fa3434"/><rect x="79.41" y="443.2" width="3.4" height="3.4" fill="#fa3434"/><rect x="98.56" y="434.1" width="3.4" height="3.4" fill="#fa3434"/><rect x="117.72" y="424.8" width="3.4" height="3.4" fill="#fa3434"/><rect x="136.87" y="417.6" width="3.4" height="3.4" fill="#fa3434"/><rect x="156.03" y="410.1" width="3.4" height="3.4" fill="#fa3434"/><rect x="175.18" y="403.6" width="3.4" height="3.4" fill="#fa3434"/><rect x="194.34" y="397" width="3.4" height="3.4" fill="#fa3434"/><rect x="213.49" y="390.9" width="3.4" height="3.4" fill="#fa3434"/><rect x="232.65" y="386" width="3.4" height="3.4" fill="#fa3434"/><rect x="251.8" y="379.9" width="3.4" height="3.4" fill="#fa3434"/><polyline points="42.8,439.5 61.95,428.2 81.11,418.5 100.26,409.6 119.42,401.3 138.57,394 157.73,386.7 176.88,379.8 196.04,373.3 215.19,367 234.35,361.3 253.5,355" fill="none" stroke="#1d5b98" stroke-width="1.3" stroke-linejoin="round"/><path d="M40.9 438L44.7 438L42.8 441.5Z" fill="#0c4a9c"/><path d="M60.05 426.7L63.85 426.7L61.95 430.2Z" fill="#0c4a9c"/><path d="M79.21 417L83.01 417L81.11 420.5Z" fill="#0c4a9c"/><path d="M98.36 408.1L102.16 408.1L100.26 411.6Z" fill="#0c4a9c"/><path d="M117.52 399.8L121.32 399.8L119.42 403.3Z" fill="#0c4a9c"/><path d="M136.67 392.5L140.47 392.5L138.57 396Z" fill="#0c4a9c"/><path d="M155.83 385.2L159.63 385.2L157.73 388.7Z" fill="#0c4a9c"/><path d="M174.98 378.3L178.78 378.3L176.88 381.8Z" fill="#0c4a9c"/><path d="M194.14 371.8L197.94 371.8L196.04 375.3Z" fill="#0c4a9c"/><path d="M213.29 365.5L217.09 365.5L215.19 369Z" fill="#0c4a9c"/><path d="M232.45 359.8L236.25 359.8L234.35 363.3Z" fill="#0c4a9c"/><path d="M251.6 353.5L255.4 353.5L253.5 357Z" fill="#0c4a9c"/><polyline points="42.8,410.4 61.95,403.4 81.11,396 100.26,389.6 119.42,383.7 138.57,378.3 157.73,373.3 176.88,368.5 196.04,364 215.19,360.1 234.35,356.5 253.5,352.3" fill="none" stroke="#1fb9cb" stroke-width="1.3" stroke-linejoin="round"/><path d="M41.35 408.95L44.25 411.85M41.35 411.85L44.25 408.95" stroke="#1ab5c8" stroke-width="0.9" fill="none"/><path d="M60.5 401.95L63.4 404.85M60.5 404.85L63.4 401.95" stroke="#1ab5c8" stroke-width="0.9" fill="none"/><path d="M79.66 394.55L82.56 397.45M79.66 397.45L82.56 394.55" stroke="#1ab5c8" stroke-width="0.9" fill="none"/><path d="M98.81 388.15L101.71 391.05M98.81 391.05L101.71 388.15" stroke="#1ab5c8" stroke-width="0.9" fill="none"/><path d="M117.97 382.25L120.87 385.15M117.97 385.15L120.87 382.25" stroke="#1ab5c8" stroke-width="0.9" fill="none"/><path d="M137.12 376.85L140.02 379.75M137.12 379.75L140.02 376.85" stroke="#1ab5c8" stroke-width="0.9" fill="none"/><path d="M156.28 371.85L159.18 374.75M156.28 374.75L159.18 371.85" stroke="#1ab5c8" stroke-width="0.9" fill="none"/><path d="M175.43 367.05L178.33 369.95M175.43 369.95L178.33 367.05" stroke="#1ab5c8" stroke-width="0.9" fill="none"/><path d="M194.59 362.55L197.49 365.45M194.59 365.45L197.49 362.55" stroke="#1ab5c8" stroke-width="0.9" fill="none"/><path d="M213.74 358.65L216.64 361.55M213.74 361.55L216.64 358.65" stroke="#1ab5c8" stroke-width="0.9" fill="none"/><path d="M232.9 355.05L235.8 357.95M232.9 357.95L235.8 355.05" stroke="#1ab5c8" stroke-width="0.9" fill="none"/><path d="M252.05 350.85L254.95 353.75M252.05 353.75L254.95 350.85" stroke="#1ab5c8" stroke-width="0.9" fill="none"/></g><rect x="33.9" y="348.9" width="33.7" height="34.1" rx="1" ry="1" fill="#fff" fill-opacity="0.8" stroke="#e4e4e4" stroke-width="0.4"/><line x1="35.3" y1="352.7" x2="48.1" y2="352.7" stroke="#111d2b" stroke-width="1.3"/><circle cx="41.7" cy="352.7" r="1.8" fill="#08111d"/><text x="52.9" y="355.05" font-size="6.9" textLength="13.3" lengthAdjust="spacingAndGlyphs" class="l">M=0</text><line x1="35.3" y1="361.55" x2="48.1" y2="361.55" stroke="#f04a4a" stroke-width="1.3"/><rect x="40" y="359.85" width="3.4" height="3.4" fill="#fa3434"/><text x="52.9" y="363.9" font-size="6.9" textLength="13.3" lengthAdjust="spacingAndGlyphs" class="l">M=1</text><line x1="35.3" y1="370.35" x2="48.1" y2="370.35" stroke="#1d5b98" stroke-width="1.3"/><path d="M39.8 368.85L43.6 368.85L41.7 372.35Z" fill="#0c4a9c"/><text x="52.9" y="372.7" font-size="6.9" textLength="13.3" lengthAdjust="spacingAndGlyphs" class="l">M=2</text><line x1="35.3" y1="379.3" x2="48.1" y2="379.3" stroke="#1fb9cb" stroke-width="1.3"/><path d="M40.25 377.85L43.15 380.75M40.25 380.75L43.15 377.85" stroke="#1ab5c8" stroke-width="0.9" fill="none"/><text x="52.9" y="381.65" font-size="6.9" textLength="13.3" lengthAdjust="spacingAndGlyphs" class="l">M=3</text><rect x="32.2" y="346.5" width="231.9" height="127.8" fill="none" stroke="#a9a9a9" stroke-width="1.1"/><line x1="61.95" y1="474.3" x2="61.95" y2="475.9" stroke="#999" stroke-width="0.6"/><text x="61.95" y="482.8" font-size="7.1" text-anchor="middle" textLength="8" lengthAdjust="spacingAndGlyphs" class="s">10</text><line x1="100.26" y1="474.3" x2="100.26" y2="475.9" stroke="#999" stroke-width="0.6"/><text x="100.26" y="482.8" font-size="7.1" text-anchor="middle" textLength="8" lengthAdjust="spacingAndGlyphs" class="s">20</text><line x1="138.57" y1="474.3" x2="138.57" y2="475.9" stroke="#999" stroke-width="0.6"/><text x="138.57" y="482.8" font-size="7.1" text-anchor="middle" textLength="8" lengthAdjust="spacingAndGlyphs" class="s">30</text><line x1="176.88" y1="474.3" x2="176.88" y2="475.9" stroke="#999" stroke-width="0.6"/><text x="176.88" y="482.8" font-size="7.1" text-anchor="middle" textLength="8" lengthAdjust="spacingAndGlyphs" class="s">40</text><line x1="215.19" y1="474.3" x2="215.19" y2="475.9" stroke="#999" stroke-width="0.6"/><text x="215.19" y="482.8" font-size="7.1" text-anchor="middle" textLength="8" lengthAdjust="spacingAndGlyphs" class="s">50</text><line x1="253.5" y1="474.3" x2="253.5" y2="475.9" stroke="#999" stroke-width="0.6"/><text x="253.5" y="482.8" font-size="7.1" text-anchor="middle" textLength="8" lengthAdjust="spacingAndGlyphs" class="s">60</text><line x1="30.6" y1="472.2" x2="32.2" y2="472.2" stroke="#999" stroke-width="0.6"/><text x="28.8" y="474.7" font-size="7.1" text-anchor="end" textLength="14" lengthAdjust="spacingAndGlyphs" class="s">28.5</text><line x1="30.6" y1="457.43" x2="32.2" y2="457.43" stroke="#999" stroke-width="0.6"/><text x="28.8" y="459.93" font-size="7.1" text-anchor="end" textLength="14" lengthAdjust="spacingAndGlyphs" class="s">29.0</text><line x1="30.6" y1="442.65" x2="32.2" y2="442.65" stroke="#999" stroke-width="0.6"/><text x="28.8" y="445.15" font-size="7.1" text-anchor="end" textLength="14" lengthAdjust="spacingAndGlyphs" class="s">29.5</text><line x1="30.6" y1="427.88" x2="32.2" y2="427.88" stroke="#999" stroke-width="0.6"/><text x="28.8" y="430.38" font-size="7.1" text-anchor="end" textLength="14" lengthAdjust="spacingAndGlyphs" class="s">30.0</text><line x1="30.6" y1="413.1" x2="32.2" y2="413.1" stroke="#999" stroke-width="0.6"/><text x="28.8" y="415.6" font-size="7.1" text-anchor="end" textLength="14" lengthAdjust="spacingAndGlyphs" class="s">30.5</text><line x1="30.6" y1="398.32" x2="32.2" y2="398.32" stroke="#999" stroke-width="0.6"/><text x="28.8" y="400.82" font-size="7.1" text-anchor="end" textLength="14" lengthAdjust="spacingAndGlyphs" class="s">31.0</text><line x1="30.6" y1="383.55" x2="32.2" y2="383.55" stroke="#999" stroke-width="0.6"/><text x="28.8" y="386.05" font-size="7.1" text-anchor="end" textLength="14" lengthAdjust="spacingAndGlyphs" class="s">31.5</text><line x1="30.6" y1="368.77" x2="32.2" y2="368.77" stroke="#999" stroke-width="0.6"/><text x="28.8" y="371.27" font-size="7.1" text-anchor="end" textLength="14" lengthAdjust="spacingAndGlyphs" class="s">32.0</text><line x1="30.6" y1="354" x2="32.2" y2="354" stroke="#999" stroke-width="0.6"/><text x="28.8" y="356.5" font-size="7.1" text-anchor="end" textLength="14" lengthAdjust="spacingAndGlyphs" class="s">32.5</text><text transform="translate(11 411.6) rotate(-90)" font-size="8.2" text-anchor="middle" textLength="23.8" lengthAdjust="spacingAndGlyphs" class="b">RMSE</text><text x="138.6" y="494" font-size="8.2" class="b">T</text><text x="143.9" y="495.2" font-size="5.6" class="b">f</text><text x="147.7" y="494.3" font-size="8.5" textLength="19.6" lengthAdjust="spacingAndGlyphs" class="b">(min)</text><text transform="translate(134.2 511.3) scale(1 1.1)" font-size="11.0" text-anchor="middle" textLength="12.6" lengthAdjust="spacingAndGlyphs" class="b">(e)</text></g>
<g><clipPath id="c5"><rect x="313.8" y="346.5" width="232" height="127.8"/></clipPath><g clip-path="url(#c5)"><polyline points="324.3,437.4 343.43,429 362.55,427.3 381.68,425.2 400.81,422 419.94,421.7 439.06,420.9 458.19,418.8 477.32,418.2 496.45,417.6 515.57,415.6 534.7,412" fill="none" stroke="#111d2b" stroke-width="1.3" stroke-linejoin="round"/><circle cx="324.3" cy="437.4" r="1.8" fill="#08111d"/><circle cx="343.43" cy="429" r="1.8" fill="#08111d"/><circle cx="362.55" cy="427.3" r="1.8" fill="#08111d"/><circle cx="381.68" cy="425.2" r="1.8" fill="#08111d"/><circle cx="400.81" cy="422" r="1.8" fill="#08111d"/><circle cx="419.94" cy="421.7" r="1.8" fill="#08111d"/><circle cx="439.06" cy="420.9" r="1.8" fill="#08111d"/><circle cx="458.19" cy="418.8" r="1.8" fill="#08111d"/><circle cx="477.32" cy="418.2" r="1.8" fill="#08111d"/><circle cx="496.45" cy="417.6" r="1.8" fill="#08111d"/><circle cx="515.57" cy="415.6" r="1.8" fill="#08111d"/><circle cx="534.7" cy="412" r="1.8" fill="#08111d"/><polyline points="324.3,468.5 343.43,467.8 362.55,464.2 381.68,461.5 400.81,456.8 419.94,453.7 439.06,448.7 458.19,445.3 477.32,442.1 496.45,439.5 515.57,436.4 534.7,433" fill="none" stroke="#f04a4a" stroke-width="1.3" stroke-linejoin="round"/><rect x="322.6" y="466.8" width="3.4" height="3.4" fill="#fa3434"/><rect x="341.73" y="466.1" width="3.4" height="3.4" fill="#fa3434"/><rect x="360.85" y="462.5" width="3.4" height="3.4" fill="#fa3434"/><rect x="379.98" y="459.8" width="3.4" height="3.4" fill="#fa3434"/><rect x="399.11" y="455.1" width="3.4" height="3.4" fill="#fa3434"/><rect x="418.24" y="452" width="3.4" height="3.4" fill="#fa3434"/><rect x="437.36" y="447" width="3.4" height="3.4" fill="#fa3434"/><rect x="456.49" y="443.6" width="3.4" height="3.4" fill="#fa3434"/><rect x="475.62" y="440.4" width="3.4" height="3.4" fill="#fa3434"/><rect x="494.75" y="437.8" width="3.4" height="3.4" fill="#fa3434"/><rect x="513.87" y="434.7" width="3.4" height="3.4" fill="#fa3434"/><rect x="533" y="431.3" width="3.4" height="3.4" fill="#fa3434"/><polyline points="324.3,402.3 343.43,408.3 362.55,408.3 381.68,403.4 400.81,400.2 419.94,395.3 439.06,393.4 458.19,390.2 477.32,387.1 496.45,383 515.57,379.5 534.7,375.3" fill="none" stroke="#1d5b98" stroke-width="1.3" stroke-linejoin="round"/><path d="M322.4 400.8L326.2 400.8L324.3 404.3Z" fill="#0c4a9c"/><path d="M341.53 406.8L345.33 406.8L343.43 410.3Z" fill="#0c4a9c"/><path d="M360.65 406.8L364.45 406.8L362.55 410.3Z" fill="#0c4a9c"/><path d="M379.78 401.9L383.58 401.9L381.68 405.4Z" fill="#0c4a9c"/><path d="M398.91 398.7L402.71 398.7L400.81 402.2Z" fill="#0c4a9c"/><path d="M418.04 393.8L421.84 393.8L419.94 397.3Z" fill="#0c4a9c"/><path d="M437.16 391.9L440.96 391.9L439.06 395.4Z" fill="#0c4a9c"/><path d="M456.29 388.7L460.09 388.7L458.19 392.2Z" fill="#0c4a9c"/><path d="M475.42 385.6L479.22 385.6L477.32 389.1Z" fill="#0c4a9c"/><path d="M494.55 381.5L498.35 381.5L496.45 385Z" fill="#0c4a9c"/><path d="M513.67 378L517.47 378L515.57 381.5Z" fill="#0c4a9c"/><path d="M532.8 373.8L536.6 373.8L534.7 377.3Z" fill="#0c4a9c"/><polyline points="324.3,370.3 343.43,370.9 362.55,371.6 381.68,370.2 400.81,369 419.94,366.4 439.06,364.5 458.19,362.5 477.32,360.7 496.45,358.5 515.57,355.8 534.7,352.1" fill="none" stroke="#1fb9cb" stroke-width="1.3" stroke-linejoin="round"/><path d="M322.85 368.85L325.75 371.75M322.85 371.75L325.75 368.85" stroke="#1ab5c8" stroke-width="0.9" fill="none"/><path d="M341.98 369.45L344.88 372.35M341.98 372.35L344.88 369.45" stroke="#1ab5c8" stroke-width="0.9" fill="none"/><path d="M361.1 370.15L364 373.05M361.1 373.05L364 370.15" stroke="#1ab5c8" stroke-width="0.9" fill="none"/><path d="M380.23 368.75L383.13 371.65M380.23 371.65L383.13 368.75" stroke="#1ab5c8" stroke-width="0.9" fill="none"/><path d="M399.36 367.55L402.26 370.45M399.36 370.45L402.26 367.55" stroke="#1ab5c8" stroke-width="0.9" fill="none"/><path d="M418.49 364.95L421.39 367.85M418.49 367.85L421.39 364.95" stroke="#1ab5c8" stroke-width="0.9" fill="none"/><path d="M437.61 363.05L440.51 365.95M437.61 365.95L440.51 363.05" stroke="#1ab5c8" stroke-width="0.9" fill="none"/><path d="M456.74 361.05L459.64 363.95M456.74 363.95L459.64 361.05" stroke="#1ab5c8" stroke-width="0.9" fill="none"/><path d="M475.87 359.25L478.77 362.15M475.87 362.15L478.77 359.25" stroke="#1ab5c8" stroke-width="0.9" fill="none"/><path d="M495 357.05L497.9 359.95M495 359.95L497.9 357.05" stroke="#1ab5c8" stroke-width="0.9" fill="none"/><path d="M514.12 354.35L517.02 357.25M514.12 357.25L517.02 354.35" stroke="#1ab5c8" stroke-width="0.9" fill="none"/><path d="M533.25 350.65L536.15 353.55M533.25 353.55L536.15 350.65" stroke="#1ab5c8" stroke-width="0.9" fill="none"/></g><rect x="315.5" y="348.9" width="33.7" height="34.1" rx="1" ry="1" fill="#fff" fill-opacity="0.8" stroke="#e4e4e4" stroke-width="0.4"/><line x1="316.9" y1="352.7" x2="329.7" y2="352.7" stroke="#111d2b" stroke-width="1.3"/><circle cx="323.3" cy="352.7" r="1.8" fill="#08111d"/><text x="334.5" y="355.05" font-size="6.9" textLength="13.3" lengthAdjust="spacingAndGlyphs" class="l">M=0</text><line x1="316.9" y1="361.55" x2="329.7" y2="361.55" stroke="#f04a4a" stroke-width="1.3"/><rect x="321.6" y="359.85" width="3.4" height="3.4" fill="#fa3434"/><text x="334.5" y="363.9" font-size="6.9" textLength="13.3" lengthAdjust="spacingAndGlyphs" class="l">M=1</text><line x1="316.9" y1="370.35" x2="329.7" y2="370.35" stroke="#1d5b98" stroke-width="1.3"/><path d="M321.4 368.85L325.2 368.85L323.3 372.35Z" fill="#0c4a9c"/><text x="334.5" y="372.7" font-size="6.9" textLength="13.3" lengthAdjust="spacingAndGlyphs" class="l">M=2</text><line x1="316.9" y1="379.3" x2="329.7" y2="379.3" stroke="#1fb9cb" stroke-width="1.3"/><path d="M321.85 377.85L324.75 380.75M321.85 380.75L324.75 377.85" stroke="#1ab5c8" stroke-width="0.9" fill="none"/><text x="334.5" y="381.65" font-size="6.9" textLength="13.3" lengthAdjust="spacingAndGlyphs" class="l">M=3</text><rect x="313.8" y="346.5" width="232" height="127.8" fill="none" stroke="#a9a9a9" stroke-width="1.1"/><line x1="343.43" y1="474.3" x2="343.43" y2="475.9" stroke="#999" stroke-width="0.6"/><text x="343.43" y="482.8" font-size="7.1" text-anchor="middle" textLength="8" lengthAdjust="spacingAndGlyphs" class="s">10</text><line x1="381.68" y1="474.3" x2="381.68" y2="475.9" stroke="#999" stroke-width="0.6"/><text x="381.68" y="482.8" font-size="7.1" text-anchor="middle" textLength="8" lengthAdjust="spacingAndGlyphs" class="s">20</text><line x1="419.94" y1="474.3" x2="419.94" y2="475.9" stroke="#999" stroke-width="0.6"/><text x="419.94" y="482.8" font-size="7.1" text-anchor="middle" textLength="8" lengthAdjust="spacingAndGlyphs" class="s">30</text><line x1="458.19" y1="474.3" x2="458.19" y2="475.9" stroke="#999" stroke-width="0.6"/><text x="458.19" y="482.8" font-size="7.1" text-anchor="middle" textLength="8" lengthAdjust="spacingAndGlyphs" class="s">40</text><line x1="496.45" y1="474.3" x2="496.45" y2="475.9" stroke="#999" stroke-width="0.6"/><text x="496.45" y="482.8" font-size="7.1" text-anchor="middle" textLength="8" lengthAdjust="spacingAndGlyphs" class="s">50</text><line x1="534.7" y1="474.3" x2="534.7" y2="475.9" stroke="#999" stroke-width="0.6"/><text x="534.7" y="482.8" font-size="7.1" text-anchor="middle" textLength="8" lengthAdjust="spacingAndGlyphs" class="s">60</text><line x1="312.2" y1="462.2" x2="313.8" y2="462.2" stroke="#999" stroke-width="0.6"/><text x="310.4" y="464.7" font-size="7.1" text-anchor="end" textLength="14" lengthAdjust="spacingAndGlyphs" class="s">13.0</text><line x1="312.2" y1="436.7" x2="313.8" y2="436.7" stroke="#999" stroke-width="0.6"/><text x="310.4" y="439.2" font-size="7.1" text-anchor="end" textLength="14" lengthAdjust="spacingAndGlyphs" class="s">13.5</text><line x1="312.2" y1="411.2" x2="313.8" y2="411.2" stroke="#999" stroke-width="0.6"/><text x="310.4" y="413.7" font-size="7.1" text-anchor="end" textLength="14" lengthAdjust="spacingAndGlyphs" class="s">14.0</text><line x1="312.2" y1="385.7" x2="313.8" y2="385.7" stroke="#999" stroke-width="0.6"/><text x="310.4" y="388.2" font-size="7.1" text-anchor="end" textLength="14" lengthAdjust="spacingAndGlyphs" class="s">14.5</text><line x1="312.2" y1="360.2" x2="313.8" y2="360.2" stroke="#999" stroke-width="0.6"/><text x="310.4" y="362.7" font-size="7.1" text-anchor="end" textLength="14" lengthAdjust="spacingAndGlyphs" class="s">15.0</text><text transform="translate(291.8 411.3) rotate(-90)" font-size="8.2" text-anchor="middle" textLength="40.6" lengthAdjust="spacingAndGlyphs" class="b">MAPE (%)</text><text x="419.6" y="494.2" font-size="8.2" class="b">T</text><text x="424.9" y="495.4" font-size="5.6" class="b">f</text><text x="428.7" y="494.5" font-size="8.5" textLength="19.6" lengthAdjust="spacingAndGlyphs" class="b">(min)</text><text transform="translate(415.2 511.3) scale(1 1.1)" font-size="11.0" text-anchor="middle" textLength="12.6" lengthAdjust="spacingAndGlyphs" class="b">(f)</text></g>
</svg>
</body></html>
